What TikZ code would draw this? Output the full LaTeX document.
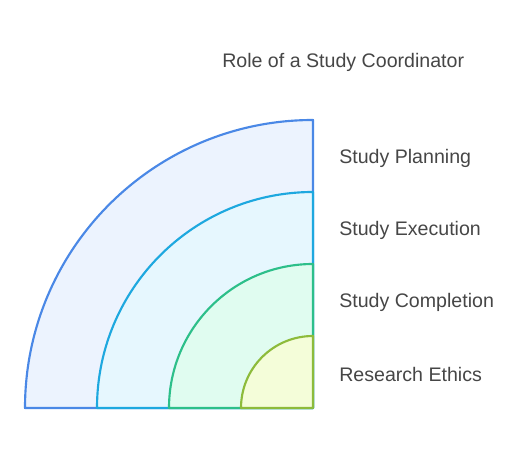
\documentclass[tikz,border=0pt]{standalone}
\usepackage{fontspec}
\setmainfont{Liberation Sans}
\definecolor{txt}{HTML}{464646}
\definecolor{s1}{HTML}{4A88E6}\definecolor{f1}{HTML}{ECF3FE}
\definecolor{s2}{HTML}{1EA8DF}\definecolor{f2}{HTML}{E6F7FE}
\definecolor{s3}{HTML}{2DBF8A}\definecolor{f3}{HTML}{E0FCF0}
\definecolor{s4}{HTML}{8DBB3B}\definecolor{f4}{HTML}{F4FDD9}
\tikzset{lbl/.style={anchor=west,inner sep=0pt,text=txt,font=\fontsize{14.7}{17}\selectfont},
ring/.style={line width=1.6pt,line join=round}}
\begin{document}
\begin{tikzpicture}[x=0.75pt,y=0.75pt]
\useasboundingbox (0,0) rectangle (530,459);
\coordinate (c) at (313,51);
\foreach \r/\s/\f in {288/s1/f1,216/s2/f2,144/s3/f3,72/s4/f4}{
  \draw[ring,draw=\s,fill=\f] (c) -- ++(-\r,0) arc[start angle=180,end angle=90,radius=\r] -- cycle;
}
\node[lbl] (title) at (222,396.5) {Role of a Study Coordinator};
\node[lbl] (l1) at (339,300.5) {Study Planning};
\node[lbl] (l2) at (339,228.5) {Study Execution};
\node[lbl] (l3) at (339,156.5) {Study Completion};
\node[lbl] (l4) at (339,84.5) {Research Ethics};
\end{tikzpicture}
\end{document}
